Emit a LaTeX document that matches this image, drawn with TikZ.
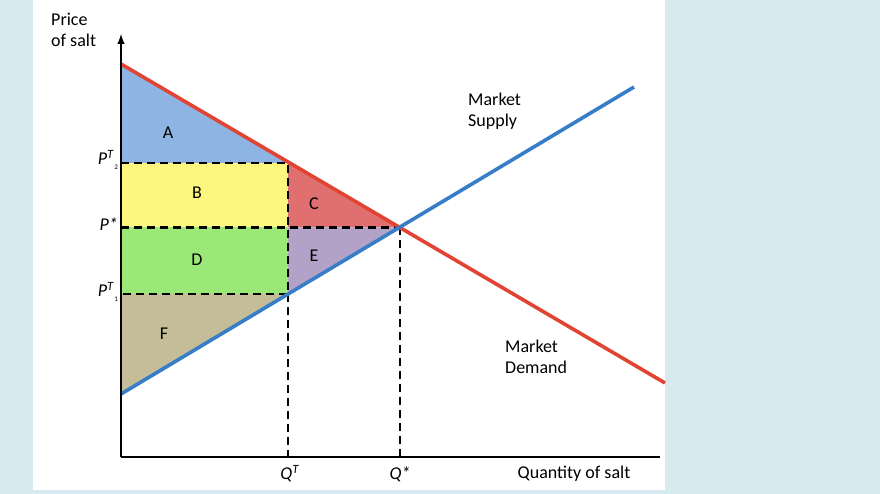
\documentclass[tikz,border=0pt]{standalone}
\usepackage{fontspec}
\setmainfont{Carlito}
\definecolor{bgc}{RGB}{214,234,240}
\definecolor{ca}{RGB}{142,180,227}
\definecolor{cb}{RGB}{253,247,127}
\definecolor{cc}{RGB}{224,112,112}
\definecolor{cd}{RGB}{155,232,121}
\definecolor{ce}{RGB}{179,162,199}
\definecolor{cf}{RGB}{196,189,151}
\definecolor{dem}{RGB}{226,68,52}
\definecolor{sup}{RGB}{55,125,200}
\begin{document}
\begin{tikzpicture}[x=1pt,y=-1pt,
  lbl/.style={font=\fontsize{18}{21}\selectfont,inner sep=1pt},
  dsh/.style={black,line width=2.4pt,dash pattern=on 8pt off 5pt},
  curve/.style={line width=3.6pt}]
\fill[bgc] (0,0) rectangle (880,494);
\fill[white] (33,0) rectangle (665,490);
\useasboundingbox (0,0) rectangle (880,494);
\coordinate (O) at (121,457);
\coordinate (Dt) at (121,64);
\coordinate (St) at (121,394);
\coordinate (P2) at (121,163);
\coordinate (Ps) at (121,227.5);
\coordinate (P1) at (121,294);
\coordinate (QT2) at (288,163);
\coordinate (E) at (400,227.5);
\coordinate (QT1) at (288,294);
\coordinate (QTs) at (288,227.5);
\fill[ca] (Dt)--(QT2)--(P2)--cycle;
\fill[cb] (P2) rectangle (QTs);
\fill[cc] (QT2)--(E)--(QTs)--cycle;
\fill[cd] (Ps) rectangle (QT1);
\fill[ce] (QTs)--(E)--(QT1)--cycle;
\fill[cf] (P1)--(QT1)--(St)--cycle;
\draw[dsh] (P2)--(QT2)--(QT1)--(P1);
\draw[dsh] (Ps)--(E);
\coordinate (QTb) at (288,457);
\coordinate (Qsb) at (400,457);
\draw[dsh] (QT1)--(QTb);
\draw[dsh] (E)--(Qsb);
\coordinate (Dend) at (665,383);
\coordinate (Send) at (634,87);
\draw[curve,dem] (Dt)--(Dend);
\draw[curve,sup] (St)--(Send);
\coordinate (Ytop) at (121,34);
\coordinate (Xend) at (660,457);
\draw[line width=2.4pt,-latex] (O)--(Ytop);
\draw[line width=2.4pt] (O)--(Xend);
\node[lbl,align=left,anchor=north west] (yl) at (50,12) {Price\\of salt};
\node[lbl] (la) at (168,133) {A};
\node[lbl] (lb) at (197,193) {B};
\node[lbl] (lc) at (314,204) {C};
\node[lbl] (ld) at (197,260) {D};
\node[lbl] (le) at (314,256) {E};
\node[lbl] (lf) at (164,334) {F};
\node[lbl,anchor=east] (p2) at (119,160) {\textit{P}\textsuperscript{\textit{T}}\raisebox{-0.6ex}{\scriptsize 2}};
\node[lbl,anchor=east] (ps) at (119,224) {\textit{P*}};
\node[lbl,anchor=east] (p1) at (119,292) {\textit{P}\textsuperscript{\textit{T}}\raisebox{-0.6ex}{\scriptsize 1}};
\node[lbl] (qt) at (290,474) {\textit{Q}\textsuperscript{\textit{T}}};
\node[lbl] (qs) at (400,474) {\textit{Q*}};
\node[lbl] (qx) at (574,474) {Quantity of salt};
\node[lbl,align=left,anchor=north west] (ms) at (467,92) {Market\\Supply};
\node[lbl,align=left,anchor=north west] (md) at (504,339) {Market\\Demand};
\end{tikzpicture}
\end{document}
